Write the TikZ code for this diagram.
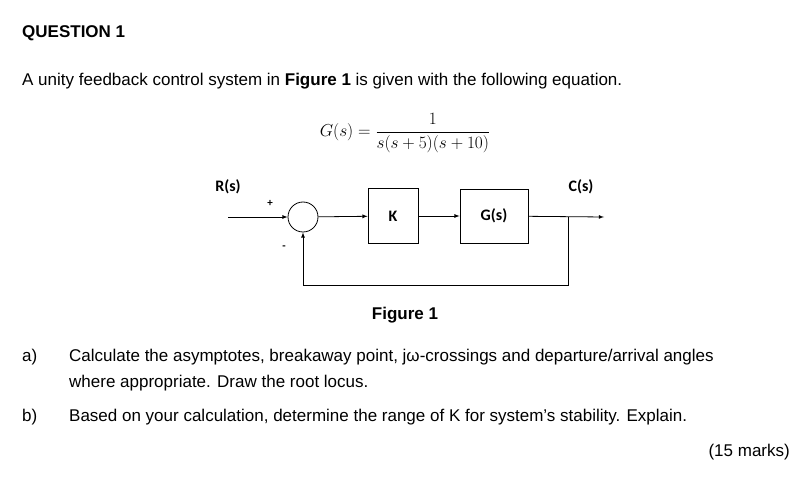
\documentclass[tikz,border=0pt]{standalone}
\usepackage{amsmath}
\usepackage{fontspec}
\setmainfont{Liberation Sans}
\newfontfamily\calib{Carlito}
\usetikzlibrary{positioning}
\tikzstyle{txt}=[anchor=base west,inner sep=0pt,font=\fontsize{17}{20}\selectfont]
\tikzstyle{dlabel}=[inner sep=0pt,font=\calib\bfseries\fontsize{16}{18}\selectfont]
\tikzstyle{block}=[draw,thick,inner sep=0pt]
\tikzstyle{signal}=[-latex, thick]

\begin{document}
\begin{tikzpicture}[x=1pt,y=-1pt]
    \useasboundingbox (0,0) rectangle (804,489);

    \node[txt,font=\bfseries\fontsize{17}{20}\selectfont] (title) at (22,38) {QUESTION 1};
    \node[txt] (intro) at (22,86) {A unity feedback control system in \textbf{Figure 1} is given with the following equation.};
    \node[inner sep=0pt,font=\fontsize{16}{18}\selectfont] (eq) at (405,133) {$G(s)=\dfrac{1}{s(s+5)(s+10)}$};

    % block diagram
    \node[block,circle,minimum size=30pt] (sum) at (303,217) {};
    \node[block,minimum width=50pt,minimum height=55pt,dlabel] (k) at (393,216) {K};
    \node[block,minimum width=68pt,minimum height=54pt,dlabel] (g) at (494,216) {G(s)};
    \coordinate (in) at (228,217);
    \coordinate (branch) at (568,217);
    \coordinate (out) at (604,217);
    \coordinate (corner) at (568,285);
    \node[dlabel] (r) at (228,187) {R(s)};
    \node[dlabel] (c) at (581,187) {C(s)};
    \node[dlabel,font=\calib\bfseries\fontsize{11}{12}\selectfont] (plus) at (270,203) {+};
    \node[dlabel,font=\calib\bfseries\fontsize{11}{12}\selectfont] (minus) at (284,248) {-};

    \draw[signal] (in) -- (sum);
    \draw[signal] (sum) -- (k);
    \draw[signal] (k) -- (g);
    \draw[signal] (g) -- (out);
    \draw[signal] (branch) -- (corner) -| (sum);

    \node[inner sep=0pt,font=\bfseries\fontsize{17}{20}\selectfont] (fig) at (405,315) {Figure 1};

    % questions
    \node[txt] (qa) at (22,362) {a)};
    \node[txt] (qa1) at (69,362) {Calculate the asymptotes, breakaway point, jω-crossings and departure/arrival angles};
    \node[txt] (qa2) at (69,387) {where appropriate. Draw the root locus.};
    \node[txt] (qb) at (22,421) {b)};
    \node[txt] (qb1) at (69,421) {Based on your calculation, determine the range of K for system’s stability. Explain.};
    \node[txt,anchor=base east] (marks) at (790,456) {(15 marks)};
\end{tikzpicture}
\end{document}
